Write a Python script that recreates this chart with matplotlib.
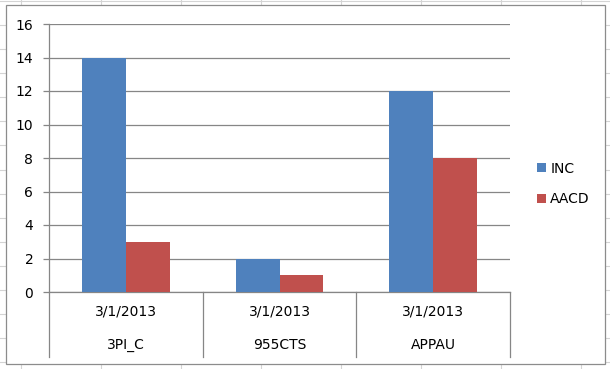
import numpy as np
import matplotlib.pyplot as plt
from matplotlib.lines import Line2D
from matplotlib.patches import Rectangle
import matplotlib.transforms as mtransforms

dates = ["3/1/2013", "3/1/2013", "3/1/2013"]
codes = ["3PI_C", "955CTS", "APPAU"]
inc = [14, 2, 12]
aacd = [3, 1, 8]

W, H = 610, 369
fig = plt.figure(figsize=(W / 100, H / 100), dpi=100)
fig.patch.set_facecolor("white")
plt.rcParams["font.family"] = "DejaVu Sans"

# spreadsheet cells behind the chart
for x in np.arange(21, W, 80):
    fig.add_artist(Line2D([x / W, x / W], [0, 1], color="#d4d4d4", lw=0.8, zorder=-3))
for y in np.arange(1, H, 24.08):
    fig.add_artist(Line2D([0, 1], [1 - y / H, 1 - y / H], color="#d4d4d4", lw=0.8, zorder=-3))

# chart area frame
fig.add_artist(Rectangle((6 / W, 1 - 364 / H), 599 / W, 359 / H, facecolor="white",
                         edgecolor="#8c8c8c", lw=0.9, zorder=-2))

ax = fig.add_axes([49 / W, 1 - 292 / H, 461 / W, 268 / H])
ax.set_facecolor("none")

x = np.arange(len(codes))
bw = 1 / 3.5
ax.bar(x - bw / 2, inc, bw, color="#4F81BD", label="INC", zorder=3)
ax.bar(x + bw / 2, aacd, bw, color="#C0504D", label="AACD", zorder=3)

ax.set_xlim(-0.5, len(codes) - 0.5)
ax.set_ylim(0, 16)
ax.set_yticks(np.arange(0, 17, 2))
ax.yaxis.grid(True, color="#868686", lw=0.9)
ax.set_axisbelow(True)
ax.tick_params(axis="y", length=4.3, width=0.9, color="#868686", pad=7, labelsize=10)
ax.set_xticks([])
for s in ["top", "right"]:
    ax.spines[s].set_visible(False)
for s in ["left", "bottom"]:
    ax.spines[s].set_color("#868686")
    ax.spines[s].set_linewidth(0.9)

# two-level category axis
trans = mtransforms.blended_transform_factory(ax.transData, ax.transAxes)
for b in np.arange(-0.5, len(codes), 1):
    ax.plot([b, b], [0, -0.2425], color="#868686", lw=0.9, transform=trans, clip_on=False)
for i in x:
    ax.text(i, -0.0735, dates[i], transform=trans, ha="center", va="center", fontsize=10)
    ax.text(i, -0.198, codes[i], transform=trans, ha="center", va="center", fontsize=10)

fig.legend(loc="center left", bbox_to_anchor=(524 / W, 1 - 184 / H), frameon=False,
           fontsize=10, handlelength=0.65, handleheight=0.65, handletextpad=0.35,
           labelspacing=1.2)

fig.savefig("out.png", dpi=100)
